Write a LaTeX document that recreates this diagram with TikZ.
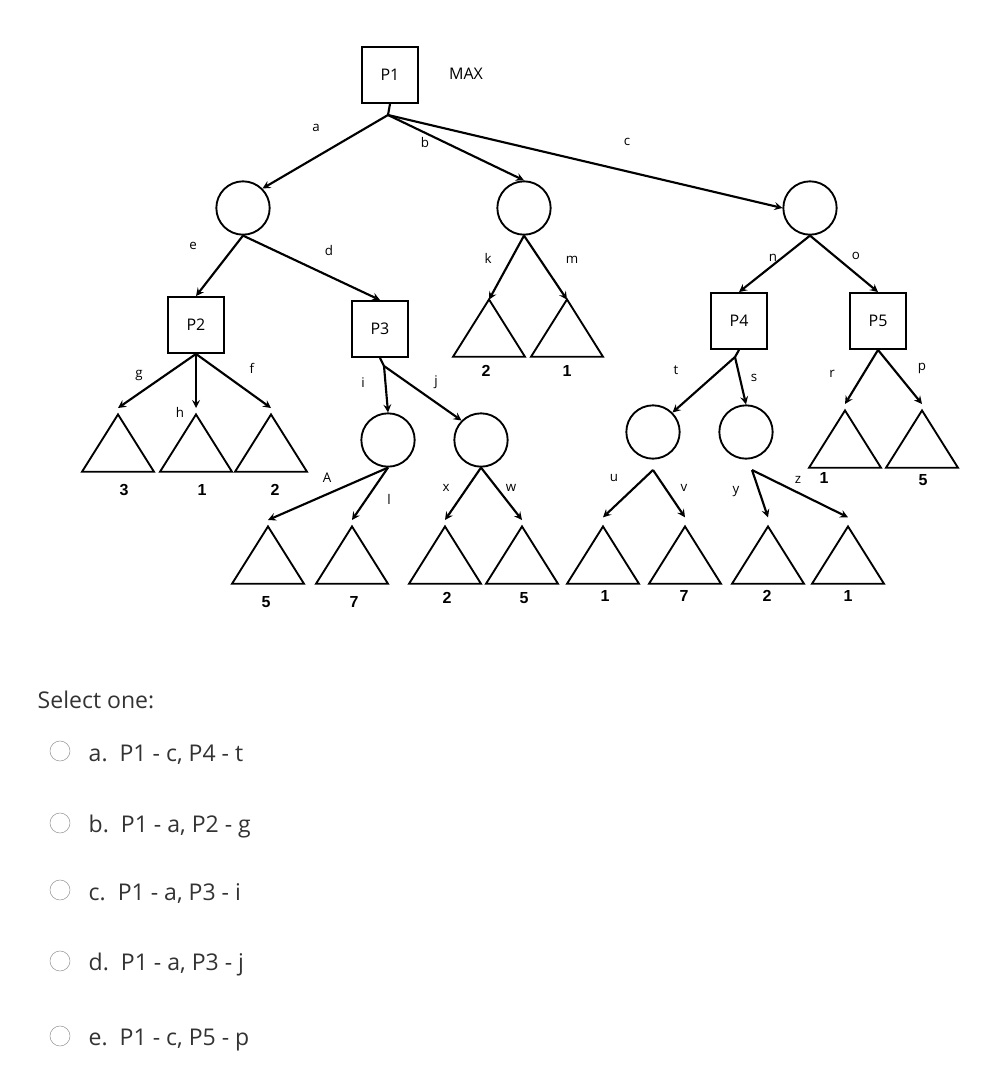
\documentclass[tikz,border=0pt]{standalone}
\usepackage{fontspec}
\setmainfont{Open Sans}
\newfontfamily\valfont{Liberation Sans}
\usetikzlibrary{shapes.geometric, arrows}
\tikzstyle{arrow} = [line width=1.6pt,->,>=stealth]
\begin{document}
\begin{tikzpicture}[x=0.75pt,y=-0.75pt,
    player/.style={draw, line width=1.4pt, minimum width=42pt, minimum height=42pt, font=\large},
    chance/.style={draw, circle, line width=1.4pt, minimum size=40pt},
    leaf/.style={draw, isosceles triangle, shape border rotate=90, isosceles triangle stretches,
      minimum width=54pt, minimum height=43pt, line width=1.4pt, anchor=apex, inner sep=0pt},
    lbl/.style={font=\normalsize},
    val/.style={font=\valfont\bfseries\large},
    opt/.style={font=\LARGE, anchor=west, text=black!80},
    radio/.style={draw=black!40, circle, minimum size=15pt, inner sep=0pt}
  ]
  \useasboundingbox (0,0) rectangle (998,1074);

  % players
  \node[player] (P1) at (390,75) {P1};
  \node[lbl, font=\large] (max) at (466,74) {MAX};
  \node[player] (P2) at (196,325) {P2};
  \node[player] (P3) at (380,329) {P3};
  \node[player] (P4) at (739,321) {P4};
  \node[player] (P5) at (878,321) {P5};

  % chance nodes
  \node[chance] (c1) at (243,208) {};
  \node[chance] (c2) at (524,208) {};
  \node[chance] (c3) at (810,208) {};
  \node[chance] (c4) at (388,440) {};
  \node[chance] (c5) at (481,440) {};
  \node[chance] (c6) at (653,432) {};
  \node[chance] (c7) at (746,432) {};

  % branch points
  \coordinate (b1) at (388,115);
  \coordinate (b2) at (384,366);
  \coordinate (b4) at (735,357);
  \coordinate (b6) at (653,470);
  \coordinate (b7) at (752,470);

  % leaves
  \node[leaf] (tk) at (489,297) {};
  \node[leaf] (tm) at (567,297) {};
  \node[leaf] (tg) at (118,412) {};
  \node[leaf] (th) at (196,412) {};
  \node[leaf] (tf) at (271,412) {};
  \node[leaf] (tr) at (845,408) {};
  \node[leaf] (tp) at (922,408) {};
  \node[leaf] (tA) at (268,524) {};
  \node[leaf] (tl) at (352,524) {};
  \node[leaf] (tx) at (445,524) {};
  \node[leaf] (tw) at (522,524) {};
  \node[leaf] (tu) at (603,524) {};
  \node[leaf] (tv) at (685,524) {};
  \node[leaf] (ty) at (768,524) {};
  \node[leaf] (tz) at (848,524) {};

  % moves
  \draw[line width=1.6pt] (P1.south) -- (b1);
  \draw[arrow] (b1) -- (c1.north east);
  \draw[arrow] (b1) -- (c2.north);
  \draw[arrow] (b1) -- (c3.west);
  \draw[arrow] (c1.south) -- (P2.north);
  \draw[arrow] (c1.south) -- (P3.north);
  \draw[arrow] (c2.south) -- ([yshift=-2pt]tk.apex);
  \draw[arrow] (c2.south) -- ([yshift=-2pt]tm.apex);
  \draw[arrow] (c3.south) -- (P4.north);
  \draw[arrow] (c3.south) -- (P5.north);
  \draw[arrow] (P2.south) -- ([yshift=3pt]tg.apex);
  \draw[arrow] (P2.south) -- ([yshift=3pt]th.apex);
  \draw[arrow] (P2.south) -- ([yshift=3pt]tf.apex);
  \draw[line width=1.6pt] (P3.south) -- (b2);
  \draw[arrow] (b2) -- (c4.north);
  \draw[arrow] (b2) -- (c5.north west);
  \draw[arrow] (c4.south) -- ([yshift=3pt]tA.apex);
  \draw[arrow] (c4.south) -- ([yshift=3pt]tl.apex);
  \draw[arrow] (c5.south) -- ([yshift=3pt]tx.apex);
  \draw[arrow] (c5.south) -- ([yshift=3pt]tw.apex);
  \draw[line width=1.6pt] (P4.south) -- (b4);
  \draw[arrow] (b4) -- (c6.north east);
  \draw[arrow] (b4) -- (c7.north);
  \draw[arrow] (b6) -- ([yshift=5pt]tu.apex);
  \draw[arrow] (b6) -- ([yshift=5pt]tv.apex);
  \draw[arrow] (b7) -- ([yshift=5pt]ty.apex);
  \draw[arrow] (b7) -- ([yshift=5pt]tz.apex);
  \draw[arrow] (P5.south) -- ([yshift=3pt]tr.apex);
  \draw[arrow] (P5.south) -- ([yshift=3pt]tp.apex);

  % move labels
  \node[lbl] (la) at (316,128) {a};
  \node[lbl] (lb) at (425,142) {b};
  \node[lbl] (lc) at (627,142) {c};
  \node[lbl] (ld) at (329,250) {d};
  \node[lbl] (le) at (193,246) {e};
  \node[lbl] (lk) at (488,258) {k};
  \node[lbl] (lm) at (572,260) {m};
  \node[lbl] (ln) at (773,258) {n};
  \node[lbl] (lo) at (856,256) {o};
  \node[lbl] (lg) at (139,375) {g};
  \node[lbl] (lh) at (180,412) {h};
  \node[lbl] (lf) at (252,368) {f};
  \node[lbl] (li) at (363,383) {i};
  \node[lbl] (lj) at (436,382) {j};
  \node[lbl] (lt) at (676,370) {t};
  \node[lbl] (ls) at (754,378) {s};
  \node[lbl] (lr) at (832,374) {r};
  \node[lbl] (lp) at (922,368) {p};
  \node[lbl] (lA) at (327,478) {A};
  \node[lbl] (ll) at (389,499) {l};
  \node[lbl] (lx) at (446,488) {x};
  \node[lbl] (lw) at (511,488) {w};
  \node[lbl] (lu) at (614,478) {u};
  \node[lbl] (lv) at (684,488) {v};
  \node[lbl] (ly) at (736,492) {y};
  \node[lbl] (lz) at (798,480) {z};

  % values
  \node[val] (vk) at (486,371) {2};
  \node[val] (vm) at (567,371) {1};
  \node[val] (vg) at (124,490) {3};
  \node[val] (vh) at (202,490) {1};
  \node[val] (vf) at (275,490) {2};
  \node[val] (vr) at (824,478) {1};
  \node[val] (vp) at (923,480) {5};
  \node[val] (vA) at (266,602) {5};
  \node[val] (vl) at (354,602) {7};
  \node[val] (vx) at (447,598) {2};
  \node[val] (vw) at (524,598) {5};
  \node[val] (vu) at (605,596) {1};
  \node[val] (vv) at (684,596) {7};
  \node[val] (vy) at (767,596) {2};
  \node[val] (vz) at (848,596) {1};

  % question
  \node[opt] (sel) at (33,700) {Select one:};
  \foreach \n/\y/\t in {a/755/{a.\ \ P1 - c, P4 - t}, b/827/{b.\ \ P1 - a, P2 - g},
      c/894/{c.\ \ P1 - a, P3 - i}, d/965/{d.\ \ P1 - a, P3 - j}, e/1040/{e.\ \ P1 - c, P5 - p}} {
    \node[radio] (r\n) at (60,\y-4) {};
    \node[opt] (o\n) at (84,\y) {\t};
  }
\end{tikzpicture}
\end{document}
